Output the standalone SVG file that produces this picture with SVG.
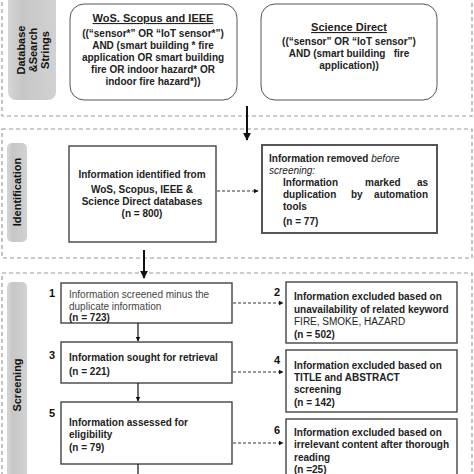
<svg xmlns="http://www.w3.org/2000/svg" width="474" height="474" viewBox="0 0 474 474">
<defs>
<linearGradient id="lg" x1="0" y1="0" x2="1" y2="0">
<stop offset="0" stop-color="#d6d6d6"/>
<stop offset="0.3" stop-color="#c6c6c6"/>
<stop offset="1" stop-color="#d2d2d2"/>
</linearGradient>
<marker id="ah" viewBox="0 0 10 10" refX="9" refY="5" markerWidth="5" markerHeight="5" orient="auto" markerUnits="userSpaceOnUse">
<path d="M0,0 L10,5 L0,10 z" fill="#111"/>
</marker>
<marker id="ahb" viewBox="0 0 10 10" refX="9" refY="5" markerWidth="8" markerHeight="8" orient="auto" markerUnits="userSpaceOnUse">
<path d="M0,0 L10,5 L0,10 z" fill="#111"/>
</marker>
</defs>
<style>
.sec{fill:none;stroke:#9a9a9a;stroke-width:1.2;stroke-dasharray:4 3}
.lab{fill:url(#lg);stroke:none}
.labt{font-family:"Liberation Sans",Arial,sans-serif;font-size:11px;font-weight:bold;fill:#111;text-anchor:middle}
.rbox{fill:#fff;stroke:#555;stroke-width:1}
.box{fill:#fff;stroke:#444;stroke-width:1.4}
.t{font-family:"Liberation Sans",Arial,sans-serif;font-size:10px;font-weight:bold;fill:#222}
.tc{text-anchor:middle}
.ttl{font-size:11px;text-decoration:underline}
.r{font-weight:normal;fill:#444}
.n{font-weight:normal}
.it{font-style:italic;font-weight:normal}
.num{font-family:"Liberation Sans",Arial,sans-serif;font-size:11px;font-weight:bold;fill:#111;text-anchor:middle}
.solid{stroke:#111;stroke-width:1.2;fill:none}
.thick{stroke:#111;stroke-width:2;fill:none}
.dash{stroke:#333;stroke-width:1;stroke-dasharray:3 2;fill:none}
</style>
<g id="sections">
<rect class="sec" x="2" y="-10" width="470" height="126"/>
<rect class="sec" x="2" y="129" width="470" height="129"/>
<rect class="sec" x="2" y="273" width="470" height="230"/>
</g>
<g id="label-database">
<rect class="lab" x="8" y="-10" width="48" height="110" rx="8"/>
<text class="labt" transform="translate(25,50) rotate(-90)">Database</text>
<text class="labt" transform="translate(37,50) rotate(-90)">&amp;Search</text>
<text class="labt" transform="translate(49,50) rotate(-90)">Strings</text>
</g>
<g id="label-identification">
<rect class="lab" x="7" y="143" width="20" height="99" rx="5"/>
<text class="labt" transform="translate(21,192) rotate(-90)">Identification</text>
</g>
<g id="label-screening">
<rect class="lab" x="7" y="282" width="20" height="220" rx="5"/>
<text class="labt" transform="translate(21,385) rotate(-90)">Screening</text>
</g>
<g id="wos">
<rect class="rbox" x="70" y="4" width="167" height="96" rx="14"/>
<text class="t tc ttl" x="153" y="22">WoS. Scopus and IEEE</text>
<text class="t tc" x="153" y="37">((“sensor*” OR “IoT sensor*”)</text>
<text class="t tc" x="153" y="49">AND (smart building * fire</text>
<text class="t tc" x="153" y="61">application OR smart building</text>
<text class="t tc" x="153" y="73">fire OR indoor hazard* OR</text>
<text class="t tc" x="153" y="85">indoor fire hazard*))</text>
</g>
<g id="sciencedirect">
<rect class="rbox" x="261" y="4" width="176" height="96" rx="14"/>
<text class="t tc ttl" x="349" y="31">Science Direct</text>
<text class="t tc" x="349" y="45">((“sensor” OR “IoT sensor”)</text>
<text class="t tc" x="349" y="57" xml:space="preserve">AND (smart building   fire</text>
<text class="t tc" x="349" y="69">application))</text>
</g>
<g id="identified">
<rect class="box" x="69" y="146" width="147" height="96"/>
<text class="t tc" x="142" y="178">Information identified from</text>
<text class="t tc" x="142" y="193">WoS, Scopus, IEEE &amp;</text>
<text class="t tc" x="142" y="205">Science Direct databases</text>
<text class="t tc" x="142" y="217">(n = 800)</text>
</g>
<g id="removed">
<rect class="box" x="262" y="145" width="175" height="88" style="stroke:#555;stroke-width:2"/>
<text class="t" x="269" y="162">Information removed <tspan class="it">before</tspan></text>
<text class="t it" x="269" y="174">screening:</text>
<text class="t" x="283" y="186">Information</text>
<text class="t" x="365" y="186">marked</text>
<text class="t" x="428" y="186" text-anchor="end">as</text>
<text class="t" x="283" y="198">duplication</text>
<text class="t" x="351" y="198">by</text>
<text class="t" x="428" y="198" text-anchor="end">automation</text>
<text class="t" x="283" y="210">tools</text>
<text class="t" x="283" y="225">(n = 77)</text>
</g>
<g id="box1">
<text class="num" x="52" y="297">1</text>
<rect class="box" x="61" y="283" width="171" height="40"/>
<text class="t r" x="69" y="298">Information screened minus the</text>
<text class="t r" x="69" y="310">duplicate information</text>
<text class="t" x="69" y="321">(n = 723)</text>
</g>
<g id="box2">
<text class="num" x="277" y="296">2</text>
<rect class="box" x="286" y="282" width="171" height="61"/>
<text class="t" x="294" y="300">Information excluded based on</text>
<text class="t" x="294" y="313">unavailability of related keyword</text>
<text class="t n" x="294" y="325">FIRE, SMOKE, HAZARD</text>
<text class="t" x="294" y="338">(n = 502)</text>
</g>
<g id="box3">
<text class="num" x="52" y="359">3</text>
<rect class="box" x="61" y="342" width="171" height="41"/>
<text class="t" x="69" y="361">Information sought for retrieval</text>
<text class="t" x="69" y="375">(n = 221)</text>
</g>
<g id="box4">
<text class="num" x="277" y="364">4</text>
<rect class="box" x="286" y="350" width="171" height="62"/>
<text class="t" x="294" y="369">Information excluded based on</text>
<text class="t" x="294" y="381">TITLE and ABSTRACT</text>
<text class="t" x="294" y="393">screening</text>
<text class="t" x="294" y="406">(n = 142)</text>
</g>
<g id="box5">
<text class="num" x="52" y="417">5</text>
<rect class="box" x="61" y="402" width="171" height="62"/>
<text class="t" x="69" y="426">Information assessed for</text>
<text class="t" x="69" y="438">eligibility</text>
<text class="t" x="69" y="451">(n = 79)</text>
</g>
<g id="box6">
<text class="num" x="277" y="434">6</text>
<rect class="box" x="286" y="419" width="171" height="70"/>
<text class="t" x="294" y="436">Information excluded based on</text>
<text class="t" x="294" y="448">irrelevant content after thorough</text>
<text class="t" x="294" y="461">reading</text>
<text class="t" x="294" y="473">(n =25)</text>
</g>
<g id="connectors">
<line class="thick" x1="247" y1="106" x2="247" y2="140" marker-end="url(#ahb)"/>
<line class="thick" x1="144" y1="250" x2="144" y2="278" marker-end="url(#ahb)"/>
<line class="dash" x1="217" y1="191" x2="258" y2="191" marker-end="url(#ah)"/>
<line class="dash" x1="233" y1="303" x2="283" y2="303" marker-end="url(#ah)"/>
<line class="dash" x1="233" y1="372" x2="283" y2="372" marker-end="url(#ah)"/>
<line class="dash" x1="233" y1="443" x2="283" y2="443" marker-end="url(#ah)"/>
<line class="solid" x1="138" y1="323" x2="138" y2="341" marker-end="url(#ah)"/>
<line class="solid" x1="138" y1="383" x2="138" y2="401" marker-end="url(#ah)"/>
<line class="solid" x1="138" y1="464" x2="138" y2="480"/>
</g>
</svg>
